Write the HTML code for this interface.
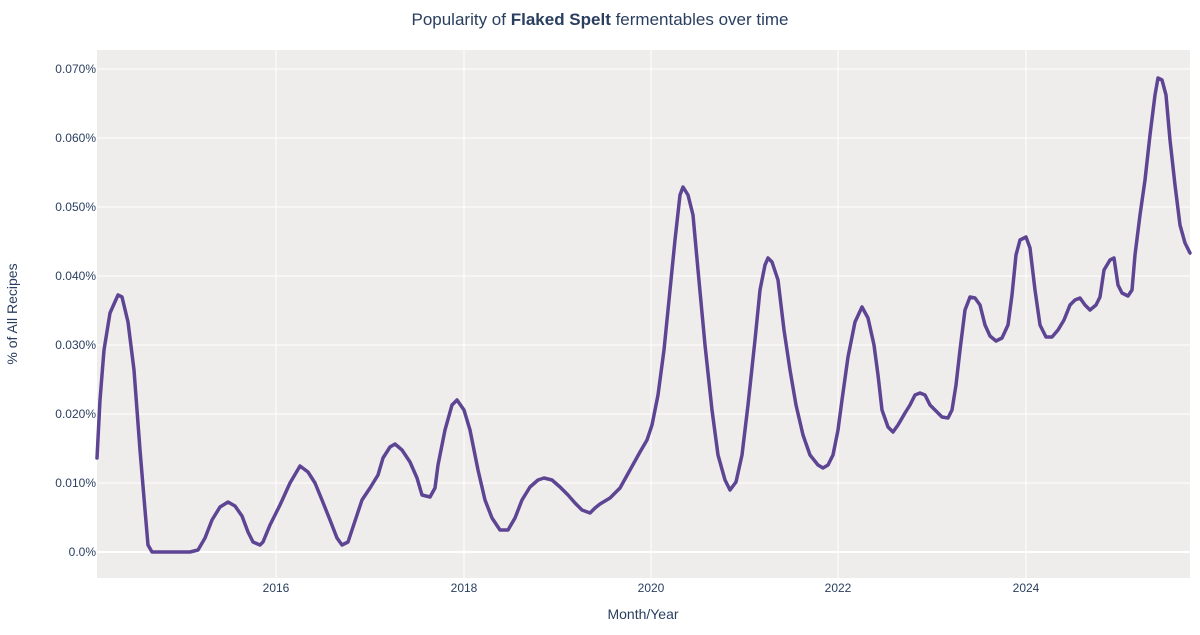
<!DOCTYPE html>
<html><head><meta charset="utf-8"><style>
body{margin:0;background:#fff;}
text{font-family:"Liberation Sans",sans-serif;fill:#2a3f5f;}
</style></head><body>
<svg width="1200" height="630" xmlns="http://www.w3.org/2000/svg">
<rect x="97" y="50" width="1093" height="528" fill="#efedeb"/>
<g stroke="#fff" stroke-width="1">
<line x1="97" x2="1190" y1="552" y2="552" stroke-width="2"/>
<line x1="97" x2="1190" y1="483" y2="483"/>
<line x1="97" x2="1190" y1="414" y2="414"/>
<line x1="97" x2="1190" y1="345" y2="345"/>
<line x1="97" x2="1190" y1="276" y2="276"/>
<line x1="97" x2="1190" y1="207" y2="207"/>
<line x1="97" x2="1190" y1="138" y2="138"/>
<line x1="97" x2="1190" y1="69" y2="69"/>
<line x1="276" x2="276" y1="50" y2="578"/>
<line x1="464" x2="464" y1="50" y2="578"/>
<line x1="651" x2="651" y1="50" y2="578"/>
<line x1="838" x2="838" y1="50" y2="578"/>
<line x1="1026" x2="1026" y1="50" y2="578"/>
</g>
<g font-size="12" text-anchor="end">
<text x="96" y="556">0.0%</text>
<text x="96" y="487">0.010%</text>
<text x="96" y="418">0.020%</text>
<text x="96" y="349">0.030%</text>
<text x="96" y="280">0.040%</text>
<text x="96" y="211">0.050%</text>
<text x="96" y="142">0.060%</text>
<text x="96" y="73">0.070%</text>
</g>
<g font-size="12" text-anchor="middle">
<text x="276" y="592">2016</text>
<text x="464" y="592">2018</text>
<text x="651" y="592">2020</text>
<text x="838" y="592">2022</text>
<text x="1026" y="592">2024</text>
</g>
<text x="643" y="619" font-size="14" text-anchor="middle">Month/Year</text>
<text transform="translate(17,314) rotate(-90)" font-size="14" text-anchor="middle">% of All Recipes</text>
<text x="600" y="25" font-size="17" text-anchor="middle">Popularity of <tspan font-weight="bold">Flaked Spelt</tspan> fermentables over time</text>
<polyline fill="none" stroke="#5e4594" stroke-width="3.5" stroke-linejoin="round" stroke-linecap="round" points="97,458 100,400 104,350 110,313 118,295 122,297 128,322 134,370 140,450 145,510 148,545 152,552 160,552 190,552 198,550 205,538 212,520 220,507 228,502 235,506 242,516 248,532 253,542 260,545 263,542 270,525 280,505 290,483 300,466 308,472 315,483 322,500 330,520 337,538 342,545 348,542 352,530 357,515 362,500 370,488 378,475 383,458 390,447 395,444 402,450 410,462 417,478 422,495 430,497 435,488 438,465 445,430 452,405 457,400 464,410 470,430 478,470 485,500 492,518 500,530 508,530 515,518 522,500 530,487 538,480 544,478 552,480 560,487 568,495 575,503 582,510 590,513 595,508 600,504 610,498 620,488 630,470 640,452 647,440 652,425 658,395 664,350 670,290 675,240 680,195 683,187 688,195 693,215 698,270 705,345 712,410 718,455 725,480 730,490 736,482 742,455 748,405 755,340 760,290 765,265 768,258 772,262 778,280 784,330 790,370 796,405 803,435 810,455 818,465 823,468 828,465 833,455 838,430 842,400 848,357 855,322 862,307 868,318 874,345 878,375 882,410 888,427 893,432 898,425 905,413 910,405 915,395 920,393 925,395 930,405 935,410 942,417 948,418 952,410 956,385 960,350 965,310 970,297 975,298 980,305 985,325 990,336 996,341 1002,338 1008,325 1012,295 1016,255 1020,240 1026,237 1030,248 1035,290 1040,325 1046,337 1052,337 1058,330 1064,320 1070,305 1075,300 1080,298 1085,305 1090,310 1096,305 1100,297 1104,270 1110,260 1114,258 1118,285 1122,293 1128,296 1132,290 1135,255 1140,215 1145,180 1150,135 1155,95 1158,78 1162,80 1166,95 1170,140 1175,185 1180,225 1185,243 1190,253"/>
</svg>
</body></html>
